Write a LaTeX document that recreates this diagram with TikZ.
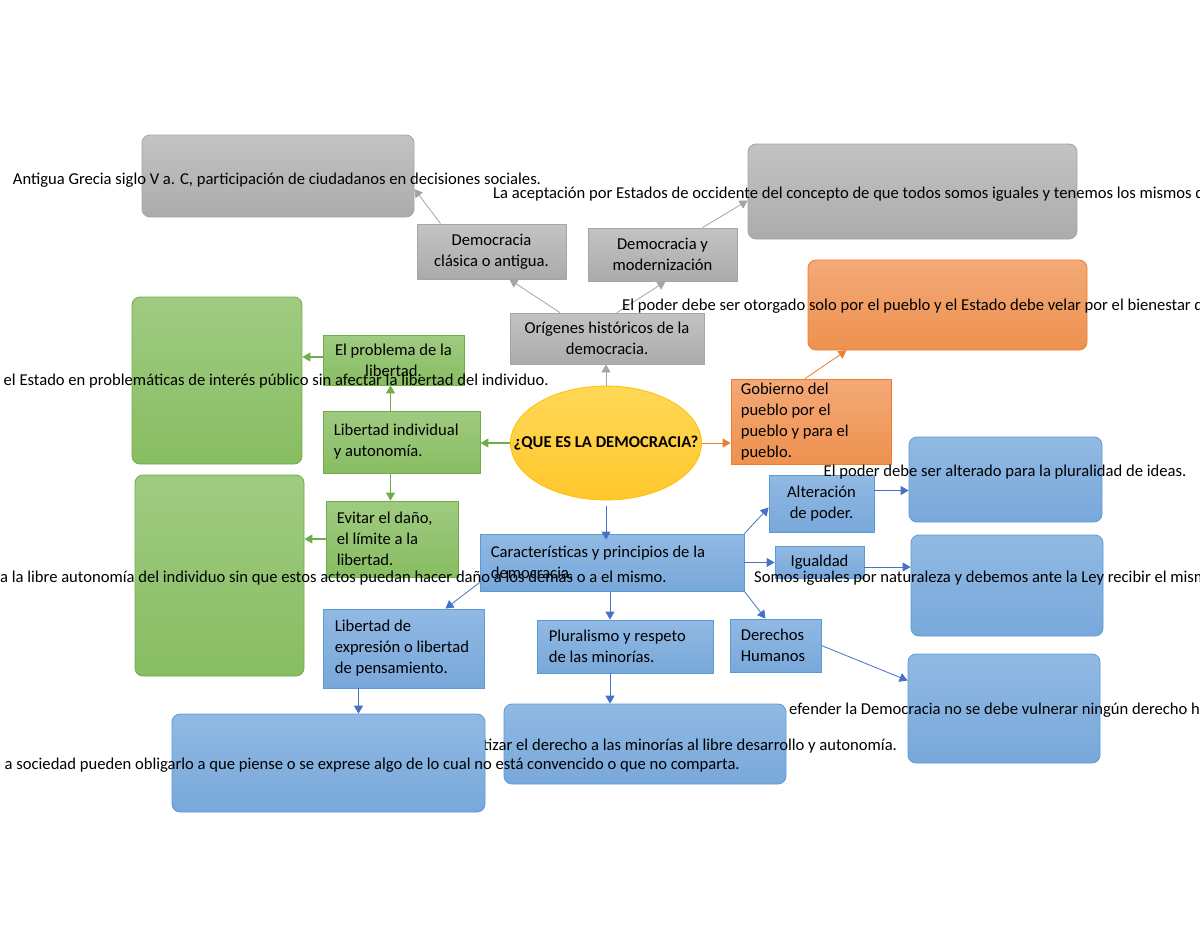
\documentclass[tikz,border=0pt]{standalone}
\usepackage{fontspec}
\setmainfont{Carlito}
\usetikzlibrary{shapes.geometric, arrows.meta}
\definecolor{greyline}{HTML}{A5A5A5}
\definecolor{greytop}{HTML}{C3C3C3}
\definecolor{greybot}{HTML}{ABABAB}
\definecolor{greenline}{HTML}{70AD47}
\definecolor{greentop}{HTML}{9FCB81}
\definecolor{greenbot}{HTML}{88BD62}
\definecolor{orangeline}{HTML}{ED7D31}
\definecolor{orangetop}{HTML}{F3A977}
\definecolor{orangebot}{HTML}{EE914F}
\definecolor{blueline}{HTML}{5B9BD5}
\definecolor{bluetop}{HTML}{91B9E3}
\definecolor{bluebot}{HTML}{78A8DA}
\definecolor{arrowblue}{HTML}{4472C4}
\definecolor{suntop}{HTML}{FFD857}
\definecolor{sunbot}{HTML}{FFC72C}
\definecolor{sunline}{HTML}{FFC000}

\begin{document}
\begin{tikzpicture}[x=1pt, y=-1pt,
  txt/.style={inner sep=0pt, font=\fontsize{16.6}{21}\selectfont},
  wh/.style 2 args={minimum width=#1pt, minimum height=#2pt},
  box/.style={rectangle, inner sep=0pt, line width=0.8pt, txt, align=center},
  big/.style={rounded corners=8pt},
  greybox/.style={box, draw=greyline, top color=greytop, bottom color=greybot},
  greenbox/.style={box, draw=greenline, top color=greentop, bottom color=greenbot},
  orangebox/.style={box, draw=orangeline, top color=orangetop, bottom color=orangebot},
  bluebox/.style={box, draw=blueline, top color=bluetop, bottom color=bluebot},
  sun/.style={ellipse, draw=sunline, line width=0.8pt, top color=suntop, bottom color=sunbot, inner sep=0pt},
  tip/.style={-{Triangle[length=8pt, width=9pt]}, line width=0.8pt},
  greyarrow/.style={tip, draw=greyline},
  greenarrow/.style={tip, draw=greenline, line width=1.1pt},
  orangearrow/.style={tip, draw=orangeline},
  bluearrow/.style={tip, draw=arrowblue}
]
  \useasboundingbox (0,0) rectangle (1200,927);
  \clip (0,0) rectangle (1200,927);
  \fill[white] (0,0) rectangle (1200,927);

  % grey branch
  \node[greybox, big, wh={272}{82}] (grecia) at (278,176) {};
  \node[greybox, big, wh={329}{95}] (occidente) at (912.5,191.5) {};
  \node[greybox, wh={149}{55}] (clasica) at (491.5,251.5) {Democracia\\clásica o antigua.};
  \node[greybox, wh={149}{53}] (moderna) at (662.5,254.5) {Democracia y\\modernización};
  \node[greybox, wh={194}{51}] (origenes) at (607,338.5) {Orígenes históricos de la\\democracia.};

  % centre
  \node[sun, wh={191}{114}] (demo) at (606,443) {};
  \node[txt, font=\bfseries\fontsize{16.6}{21}\selectfont] (demo-txt) at (demo.center) {¿QUE ES LA DEMOCRACIA?};

  % orange branch
  \node[orangebox, big, wh={279}{90}] (otorgado) at (947.5,305) {};
  \node[orangebox, wh={160}{85}] (gobierno) at (811,421.5) {};
  \node[txt, align=left, anchor=west] (gobierno-txt) at ([xshift=10pt]gobierno.west) {Gobierno del\\pueblo por el\\pueblo y para el\\pueblo.};

  % green branch
  \node[greenbox, big, wh={170}{167}] (bigup) at (217,380.5) {};
  \node[greenbox, big, wh={169}{201}] (bigdown) at (219.5,575.5) {};
  \node[greenbox, wh={141}{50}] (problema) at (393.5,360) {El problema de la\\libertad.};
  \node[greenbox, wh={157}{62}] (individual) at (401.5,442) {};
  \node[txt, align=left, anchor=west] (individual-txt) at ([xshift=11pt]individual.west) {Libertad individual\\y autonomía.};
  \node[greenbox, wh={132}{76}] (evitar) at (392,539) {};
  \node[txt, align=left, anchor=west] (evitar-txt) at ([xshift=11pt]evitar.west) {Evitar el daño,\\el límite a la\\libertad.};

  % blue branch
  \node[bluebox, wh={264}{57}] (caract) at (612,562.5) {};
  \node[txt, align=left, anchor=west] (caract-txt) at ([xshift=11pt]caract.west) {Características y principios de la\\democracia.};
  \node[bluebox, wh={105}{57}] (alteracion) at (821.5,503.5) {Alteración\\de poder.};
  \node[bluebox, wh={89}{32}] (igualdad) at (819.5,562) {Igualdad};
  \node[bluebox, wh={91}{53}] (derechos) at (775.5,645.5) {};
  \node[txt, align=left, anchor=west] (derechos-txt) at ([xshift=11pt]derechos.west) {Derechos\\Humanos};
  \node[bluebox, wh={161}{79}] (expresion) at (403.5,648.5) {};
  \node[txt, align=left, anchor=west] (expresion-txt) at ([xshift=12pt]expresion.west) {Libertad de\\expresión o libertad\\de pensamiento.};
  \node[bluebox, wh={176}{53}] (pluralismo) at (625,646.5) {};
  \node[txt, align=left, anchor=west] (pluralismo-txt) at ([xshift=12pt]pluralismo.west) {Pluralismo y respeto\\de las minorías.};
  \node[bluebox, big, wh={193}{85}] (alterado) at (1005.5,479.5) {};
  \node[bluebox, big, wh={192}{101}] (iguales) at (1007,585.5) {};
  \node[bluebox, big, wh={192}{109}] (humanos) at (1004,708.5) {};
  \node[txt, anchor=west] (humanos-txt) at (789,710) {efender la Democracia no se debe vulnerar ningún derecho hu};
  \node[bluebox, big, wh={282}{80}] (minorias) at (645,744) {};
  \node[txt, anchor=west] (minorias-txt) at (483,746) {tizar el derecho a las minorías al libre desarrollo y autonomía.};
  \node[bluebox, big, wh={313}{98}] (obligar) at (328.5,763) {};

  % connectors
  \draw[greyarrow] (demo.north) -- (demo.north |- origenes.south);
  \draw[greyarrow] ([xshift=-47pt]origenes.north) -- ([xshift=18pt]clasica.south);
  \draw[greyarrow] ([xshift=10pt]origenes.north) -- ([xshift=3pt]moderna.south);
  \draw[greyarrow] ([xshift=-51pt]clasica.north) -- ([yshift=-13pt]grecia.east);
  \draw[greyarrow] ([xshift=40pt]moderna.north) -- ([yshift=-9pt]occidente.west);
  \draw[greenarrow] (demo.west) -- (demo.west -| individual.east);
  \draw[greenarrow] ([xshift=-11pt]individual.north) -- ([xshift=-11pt]individual.north |- problema.south);
  \draw[greenarrow] ([xshift=-11pt]individual.south) -- ([xshift=-11pt]individual.south |- evitar.north);
  \draw[greenarrow] ([yshift=3pt]problema.west) -- ([yshift=3pt]problema.west -| bigup.east);
  \draw[greenarrow] (evitar.west) -- (evitar.west -| bigdown.east);
  \draw[orangearrow] (demo.east) -- (demo.east -| gobierno.west);
  \draw[orangearrow] ([xshift=-6pt]gobierno.north) -- ([xshift=-101pt]otorgado.south);
  \draw[bluearrow] ([yshift=-6pt]demo.south) -- ([yshift=-6pt]demo.south |- caract.north);
  \draw[bluearrow] (caract.north east) -- ([yshift=-4pt]alteracion.west);
  \draw[bluearrow] (caract.east) -- (caract.east -| igualdad.west);
  \draw[bluearrow] (caract.south east) -- ([xshift=-10pt]derechos.north);
  \draw[bluearrow] ([xshift=-2pt]caract.south) -- ([xshift=-2pt]caract.south |- pluralismo.north);
  \draw[bluearrow] ([yshift=-20pt]caract.west) -- ([xshift=42pt]expresion.north);
  \draw[bluearrow] ([yshift=13pt]alteracion.east) -- ([yshift=13pt]alteracion.east -| alterado.west);
  \draw[bluearrow] ([yshift=-5pt]igualdad.east) -- ([yshift=-5pt]igualdad.east -| iguales.west);
  \draw[bluearrow] (derechos.east) -- ([yshift=28pt]humanos.west);
  \draw[bluearrow] ([xshift=-45pt]expresion.south) -- ([xshift=-45pt]expresion.south |- obligar.north);
  \draw[bluearrow] ([xshift=-15pt]pluralismo.south) -- ([xshift=-15pt]pluralismo.south |- minorias.north);

  % overflowing texts
  \node[txt] (grecia-txt) at (277,180) {Antigua Grecia siglo V a. C, participación de ciudadanos en decisiones sociales.};
  \node[txt, anchor=west] (occidente-txt) at (493,194) {La aceptación por Estados de occidente del concepto de que todos somos iguales y tenemos los mismos d};
  \node[txt, anchor=west] (otorgado-txt) at (622,306) {El poder debe ser otorgado solo por el pueblo y el Estado debe velar por el bienestar d};
  \node[txt, anchor=east] (bigup-txt) at (549,381) {el Estado en problemáticas de interés público sin afectar la libertad del individuo.};
  \node[txt, anchor=east] (bigdown-txt) at (667,578) {a la libre autonomía del individuo sin que estos actos puedan hacer daño a los demás o a el mismo.};
  \node[txt] (alterado-txt) at (1005,472) {El poder debe ser alterado para la pluralidad de ideas.};
  \node[txt, anchor=west] (iguales-txt) at (754,578) {Somos iguales por naturaleza y debemos ante la Ley recibir el mism};
  \node[txt, anchor=east] (obligar-txt) at (740,765) {a sociedad pueden obligarlo a que piense o se exprese algo de lo cual no está convencido o que no comparta.};
\end{tikzpicture}
\end{document}
